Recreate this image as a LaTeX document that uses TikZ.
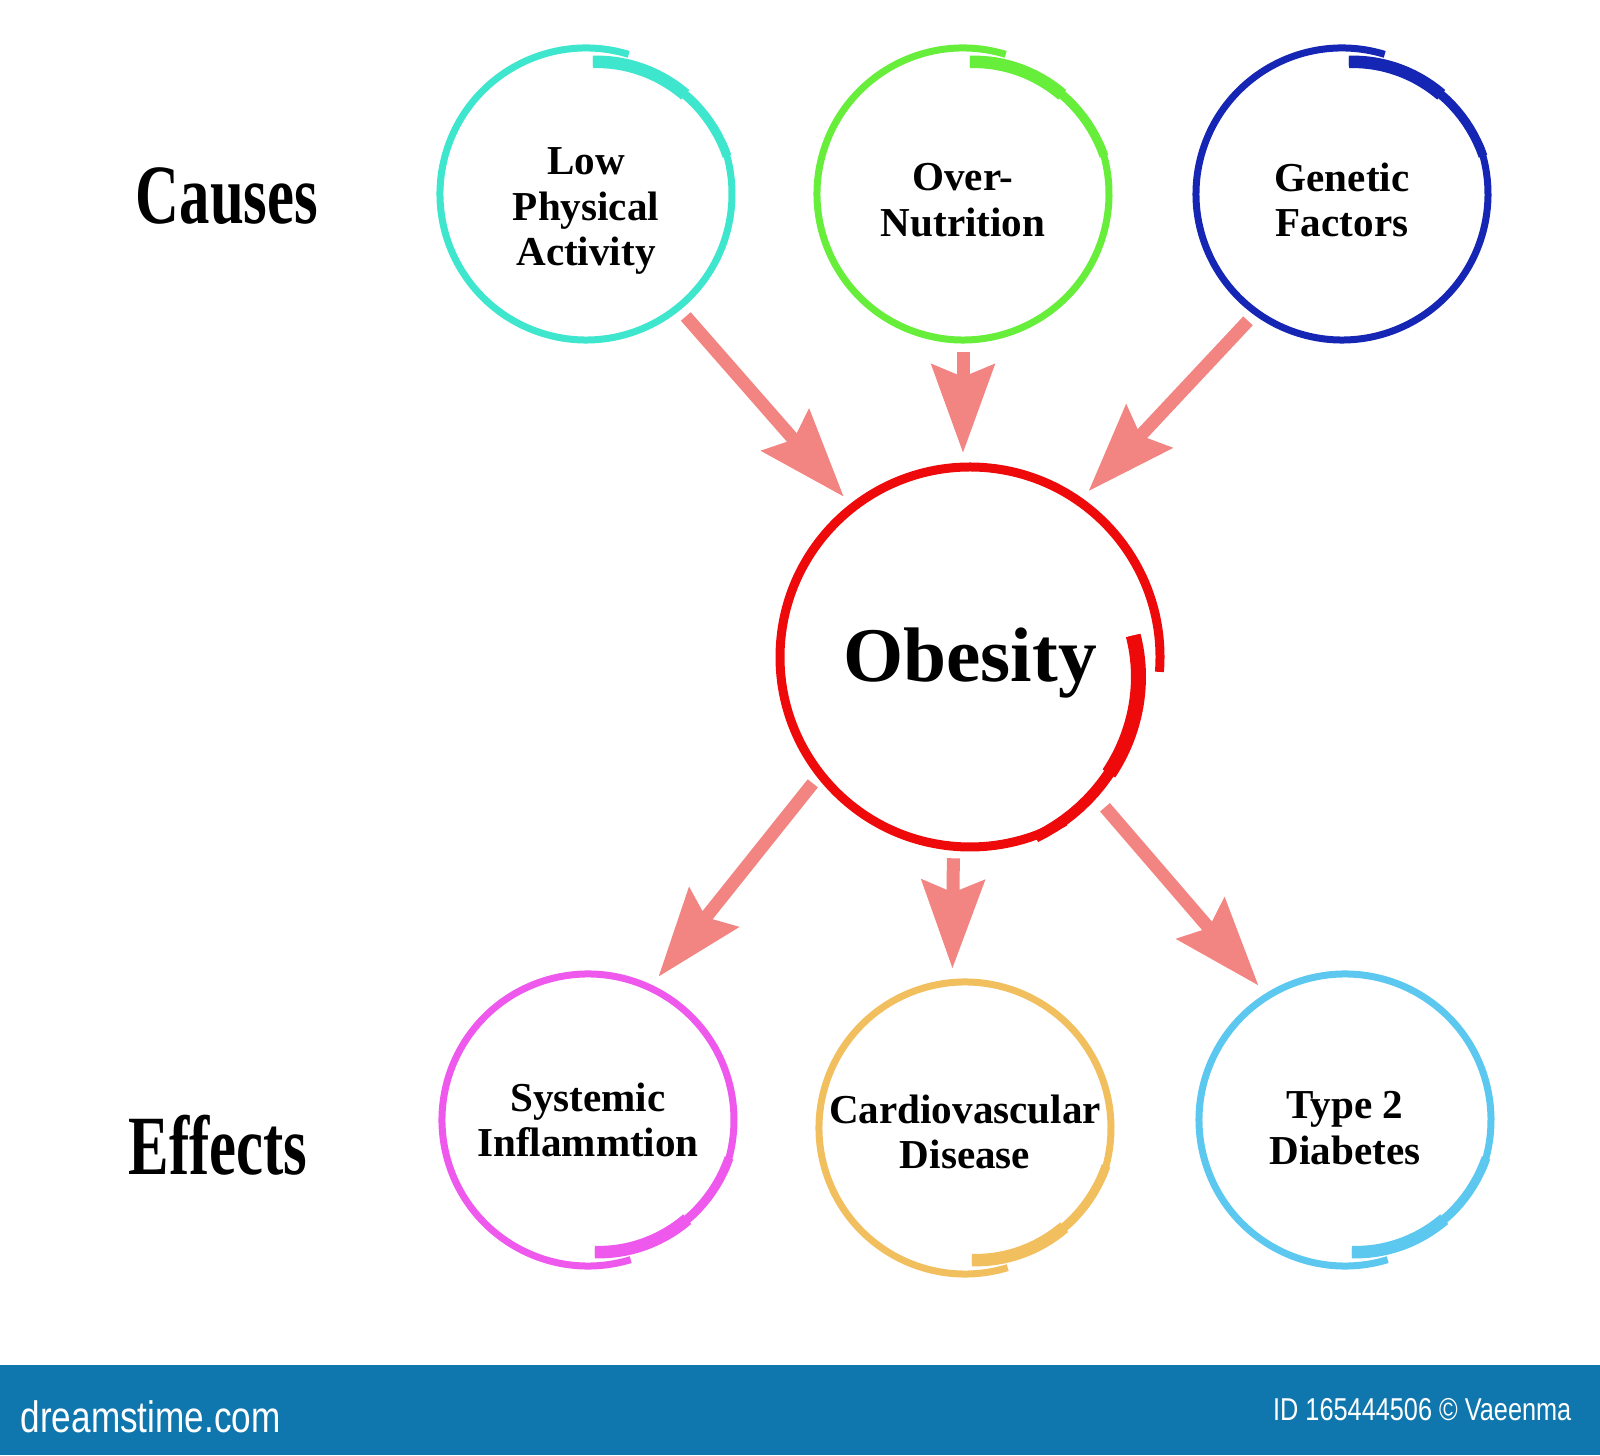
\documentclass[tikz,border=0pt]{standalone}
\usepackage{fontspec}
\setmainfont{Liberation Serif}
\newfontfamily\headfont{Liberation Serif}[FakeStretch=0.72]
\newfontfamily\bannerfont{Liberation Sans}[FakeStretch=0.8]
\usetikzlibrary{arrows.meta}

\definecolor{lpacol}{HTML}{3EE6CD}
\definecolor{oncol}{HTML}{66EE3A}
\definecolor{gfcol}{HTML}{1626B4}
\definecolor{obcol}{HTML}{EE0A0A}
\definecolor{sicol}{HTML}{EE58EC}
\definecolor{cdcol}{HTML}{F2BF5E}
\definecolor{tdcol}{HTML}{5CC8EF}
\definecolor{arrcol}{HTML}{F28482}
\definecolor{barcol}{HTML}{1077AE}

\tikzset{
  bubble/.style={circle, minimum size=2.92cm, inner sep=0pt, outer sep=0pt},
  bubbletext/.style={align=center, inner sep=0pt, font=\bfseries\fontsize{11.7}{13}\selectfont},
  ring/.style={line width=0.07cm},
  tail/.style={line width=0.09cm},
  thicktail/.style={line width=0.125cm},
  arr/.style={arrcol, line width=0.13cm, -{Stealth[length=0.88cm,width=0.62cm,inset=0.12cm]}, shorten <=0.12cm, shorten >=0.14cm},
  heading/.style={font=\headfont\bfseries\fontsize{24}{28}\selectfont}
}

\begin{document}
\begin{tikzpicture}

            \useasboundingbox (0,0) rectangle (16,14.55);

            \path   (5.86,12.61) node (lpa) [bubble] {}
                    (9.63,12.61) node (on) [bubble] {}
                    (13.42,12.61) node (gf) [bubble] {}
                    (9.70,7.98) node (ob) [bubble, minimum size=3.80cm] {}
                    (5.88,3.35) node (si) [bubble] {}
                    (9.65,3.27) node (cd) [bubble] {}
                    (13.45,3.35) node (td) [bubble] {}
                    (2.27,12.59) node (causes) [heading] {Causes}
                    (2.18,3.10) node (effects) [heading] {Effects};

            \path   ([yshift=-0.17cm]lpa.center) node (lpatext) [bubbletext] {Low\\Physical\\Activity}
                    ([yshift=-0.06cm]on.center) node (ontext) [bubbletext] {Over-\\Nutrition}
                    ([yshift=-0.06cm]gf.center) node (gftext) [bubbletext] {Genetic\\Factors}
                    ([yshift=-0.06cm]ob.center) node (obtext) [bubbletext, font=\bfseries\fontsize{22}{26}\selectfont] {Obesity}
                    (si.center) node (sitext) [bubbletext] {Systemic\\Inflammtion}
                    ([yshift=-0.04cm]cd.center) node (cdtext) [bubbletext] {Cardiovascular\\Disease}
                    ([yshift=-0.08cm]td.center) node (tdtext) [bubbletext] {Type 2\\Diabetes};

            % hand drawn rings, top row
            \draw[ring, lpacol] ([shift={(73:1.46)}]lpa.center) arc[start angle=73, end angle=380, radius=1.46];
            \draw[tail, lpacol, shift={(lpa.center)}] plot[domain=15:87] (\x:{1.46-0.0019*(\x-15)});
            \draw[thicktail, lpacol, shift={(lpa.center)}] plot[domain=45:87] (\x:{1.46-0.0019*(\x-15)});
            \draw[ring, oncol] ([shift={(73:1.46)}]on.center) arc[start angle=73, end angle=380, radius=1.46];
            \draw[tail, oncol, shift={(on.center)}] plot[domain=15:87] (\x:{1.46-0.0019*(\x-15)});
            \draw[thicktail, oncol, shift={(on.center)}] plot[domain=45:87] (\x:{1.46-0.0019*(\x-15)});
            \draw[ring, gfcol] ([shift={(73:1.46)}]gf.center) arc[start angle=73, end angle=380, radius=1.46];
            \draw[tail, gfcol, shift={(gf.center)}] plot[domain=15:87] (\x:{1.46-0.0019*(\x-15)});
            \draw[thicktail, gfcol, shift={(gf.center)}] plot[domain=45:87] (\x:{1.46-0.0019*(\x-15)});

            \draw[ring, obcol, line width=0.09cm] ([shift={(-4.5:1.90)}]ob.center) arc[start angle=-4.5, end angle=300, radius=1.90];
            \draw[tail, obcol, line width=0.11cm, shift={(ob.center)}] plot[domain=290:367.5] (\x:{1.90-0.0035*(\x-295)});
            \draw[tail, obcol, line width=0.15cm, shift={(ob.center)}] plot[domain=320:367.5] (\x:{1.90-0.0035*(\x-295)});

            % bottom row
            \draw[ring, sicol] ([shift={(-73:1.46)}]si.center) arc[start angle=-73, end angle=-380, radius=1.46];
            \draw[tail, sicol, shift={(si.center)}] plot[domain=-15:-87] (\x:{1.46-0.0019*(-15-\x)});
            \draw[thicktail, sicol, shift={(si.center)}] plot[domain=-45:-87] (\x:{1.46-0.0019*(-15-\x)});
            \draw[ring, cdcol] ([shift={(-73:1.46)}]cd.center) arc[start angle=-73, end angle=-380, radius=1.46];
            \draw[tail, cdcol, shift={(cd.center)}] plot[domain=-15:-87] (\x:{1.46-0.0019*(-15-\x)});
            \draw[thicktail, cdcol, shift={(cd.center)}] plot[domain=-45:-87] (\x:{1.46-0.0019*(-15-\x)});
            \draw[ring, tdcol] ([shift={(-73:1.46)}]td.center) arc[start angle=-73, end angle=-380, radius=1.46];
            \draw[tail, tdcol, shift={(td.center)}] plot[domain=-15:-87] (\x:{1.46-0.0019*(-15-\x)});
            \draw[thicktail, tdcol, shift={(td.center)}] plot[domain=-45:-87] (\x:{1.46-0.0019*(-15-\x)});

            \draw[arr] (lpa.-51) -- (ob.128);
            \draw[arr] (on.south) -- (on.south |- ob.north);
            \draw[arr] (gf.-126) -- (ob.55);
            \draw[arr] (ob.-142) -- (si.65);
            \draw[arr] (ob.-95) -- (cd.95);
            \draw[arr] (ob.-48) -- (td.122);

            \fill[barcol] (0,0) rectangle (16,0.90);
            \node (site) [anchor=west, inner sep=0pt, text=white, font=\bannerfont\fontsize{12.5}{14}\selectfont] at (0.20,0.38) {dreamstime.com};
            \node (imgid) [anchor=east, inner sep=0pt, text=white, font=\bannerfont\fontsize{9}{11}\selectfont] at (15.72,0.45) {ID 165444506 © Vaeenma};

        \end{tikzpicture}
\end{document}
